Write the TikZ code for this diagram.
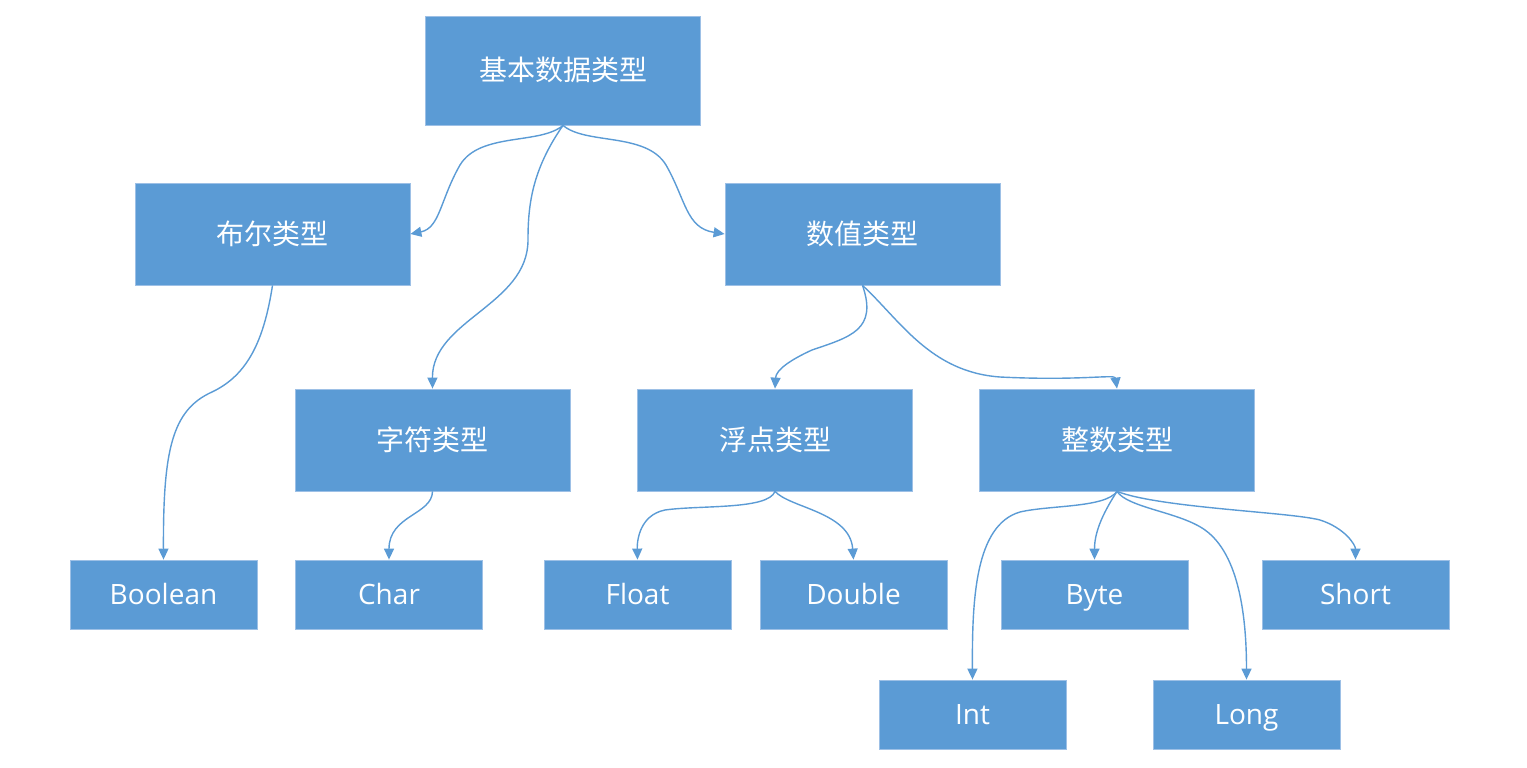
\documentclass[tikz,border=0pt]{standalone}
\usepackage{fontspec}
\setmainfont{Open Sans}
\newfontfamily\cjk{Noto Sans CJK SC}
\usetikzlibrary{arrows.meta}
\definecolor{boxblue}{HTML}{5B9BD5}
\definecolor{boxedge}{HTML}{9DC0E6}
\begin{document}
\begin{tikzpicture}[x=1pt,y=-1pt,
  box/.style={draw=boxedge,line width=0.8pt,fill=boxblue,text=white,inner sep=0pt,
    text height=20pt,text depth=0pt,
    font=\fontsize{28pt}{32pt}\selectfont},
  big/.style={box,minimum width=275pt,minimum height=102pt},
  small/.style={box,minimum width=187pt,minimum height=69pt},
  conn/.style={draw=boxblue,line width=1.4pt,-{Triangle[length=11pt,width=10pt]}}]
\useasboundingbox (0,0) rectangle (1527,768);
\node[big,minimum height=109pt] (root) at (563,70.5) {\cjk 基本数据类型};
\node[big] (bool) at (272.5,234) {\cjk 布尔类型};
\node[big] (num) at (862.5,234) {\cjk 数值类型};
\node[big] (char) at (432.5,440) {\cjk 字符类型};
\node[big] (flt) at (775,440) {\cjk 浮点类型};
\node[big] (int) at (1117,440) {\cjk 整数类型};
\node[small] (Boolean) at (163.5,594.5) {Boolean};
\node[small] (Char) at (389,594.5) {Char};
\node[small] (Float) at (637.5,594.5) {Float};
\node[small] (Double) at (853.5,594.5) {Double};
\node[small] (Byte) at (1094.5,594.5) {Byte};
\node[small] (Short) at (1355.5,594.5) {Short};
\node[small] (Int) at (972.5,714.5) {Int};
\node[small] (Long) at (1246.5,714.5) {Long};
% root connectors
\draw[conn] (root.south) .. controls (540,145) and (480,132) .. (460,165)
  .. controls (440,200) and (440,228) .. (bool.east);
\draw[conn] (root.south) .. controls (586,145) and (646,132) .. (666,165)
  .. controls (686,200) and (686,228) .. (num.west);
\draw[conn] (root.south) .. controls (532,170) and (528,205) .. (528,240)
  .. controls (528,305) and (432,320) .. (char.north);
% bool
\draw[conn] (bool.south) .. controls (264,340) and (248,375) .. (212,392)
  .. controls (172,410) and (163,450) .. (Boolean.north);
% char
\draw[conn] (char.south) .. controls (432,515) and (389,515) .. (Char.north);
% num
\draw[conn] (num.south) .. controls (878,330) and (850,337) .. (812,350)
  .. controls (790,360) and (776,370) .. (flt.north);
\draw[conn] (num.south) .. controls (900,320) and (930,372) .. (1000,377)
  .. controls (1080,381) and (1115,374) .. (int.north);
% float
\draw[conn] (flt.south) .. controls (768,510) and (700,505) .. (665,510)
  .. controls (640,515) and (637,540) .. (Float.north);
\draw[conn] (flt.south) .. controls (790,508) and (850,512) .. (Double.north);
% int
\draw[conn] (int.south) .. controls (1105,508) and (1050,505) .. (1020,512)
  .. controls (975,525) and (972,600) .. (Int.north);
\draw[conn] (int.south) .. controls (1105,510) and (1094.5,530) .. (Byte.north);
\draw[conn] (int.south) .. controls (1128,508) and (1180,512) .. (1205,530)
  .. controls (1240,555) and (1246.5,620) .. (Long.north);
\draw[conn] (int.south) .. controls (1160,508) and (1290,512) .. (1320,520)
  .. controls (1345,528) and (1355.5,545) .. (Short.north);
\end{tikzpicture}
\end{document}
